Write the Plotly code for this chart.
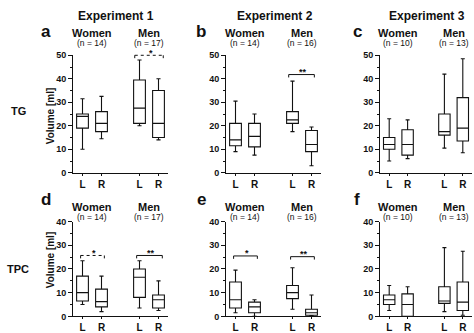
import plotly.graph_objects as go

W, H = 474, 333

# Box positions within each panel: Women L/R, Men L/R
positions = [0, 1, 3, 4]
sides = ["L", "R", "L", "R"]

# --- TG volume [ml] ---
tg1_low = [10, 14.5, 20, 14]
tg1_q1 = [19, 17.5, 21, 15]
tg1_med = [24, 21, 27.5, 21]
tg1_q3 = [25, 26, 39.5, 35]
tg1_high = [31.5, 32.5, 48, 40]

tg2_low = [9, 7.5, 17.5, 3]
tg2_q1 = [11.5, 11, 21, 9]
tg2_med = [14, 15.5, 22.5, 12]
tg2_q3 = [21, 21, 26, 18]
tg2_high = [30.5, 25, 39, 19.5]

tg3_low = [5, 6, 10.5, 8.5]
tg3_q1 = [10, 7.5, 16, 13.5]
tg3_med = [12, 12, 17.5, 19]
tg3_q3 = [15, 18.3, 25, 32]
tg3_high = [23, 22.5, 42, 48.5]

# --- TPC volume [ml] ---
tpc1_low = [5, 2, 3.5, 2.5]
tpc1_q1 = [6.5, 4, 8, 3.5]
tpc1_med = [10, 6.2, 16.5, 7]
tpc1_q3 = [17, 11.5, 20, 9]
tpc1_high = [23.5, 17, 23.5, 15]

tpc2_low = [1.5, 0, 3, 0]
tpc2_q1 = [3.5, 1.5, 7.5, 0.5]
tpc2_med = [7, 4, 10, 1.5]
tpc2_q3 = [14.5, 6, 13, 3]
tpc2_high = [19.5, 7, 20.5, 9]

tpc3_low = [2.5, 0, 2, 0.5]
tpc3_q1 = [5, 0, 5.5, 2.5]
tpc3_med = [7, 5, 6.5, 6]
tpc3_q3 = [9, 9.5, 12.5, 14.5]
tpc3_high = [13, 12.5, 29, 27.5]

# Group sizes (women, men) per experiment
n_women = [14, 14, 10]
n_men = [17, 16, 13]

experiments = ["Experiment 1", "Experiment 2", "Experiment 3"]
panel_letters = ["a", "b", "c", "d", "e", "f"]
row_labels = ["TG", "TPC"]
y_max = [50, 40]

# Significance brackets: (panel index, x start, x end, y level, label, dotted)
brackets = [
    (0, 2.75, 4.25, 50, "*", True),
    (1, 2.8, 4.15, 41.8, "**", False),
    (3, -0.1, 1.15, 25.7, "*", True),
    (3, 2.85, 4.2, 25.7, "**", False),
    (4, -0.1, 1.15, 25.5, "*", False),
    (4, 2.9, 4.15, 25.2, "**", False),
]

stats = [
    (tg1_low, tg1_q1, tg1_med, tg1_q3, tg1_high),
    (tg2_low, tg2_q1, tg2_med, tg2_q3, tg2_high),
    (tg3_low, tg3_q1, tg3_med, tg3_q3, tg3_high),
    (tpc1_low, tpc1_q1, tpc1_med, tpc1_q3, tpc1_high),
    (tpc2_low, tpc2_q1, tpc2_med, tpc2_q3, tpc2_high),
    (tpc3_low, tpc3_q1, tpc3_med, tpc3_q3, tpc3_high),
]

FONT = "Liberation Sans, Arial, sans-serif"
INK = "#111"

# Panel frame in pixels: left axis x, width of one box slot; rows: (top px, bottom px)
col_left = [73, 226, 380]
col_unit = [19, 19, 18.4]
row_px = [(52, 173.5), (224, 322)]


def px(x):
    return x / W


def py(y):
    return 1 - y / H


def label(x, y, text, size, bold=True, xref="paper", **kw):
    font = dict(size=size, family=FONT, color=INK)
    if bold:
        font["weight"] = "bold"
    d = dict(x=x, y=y, xref=xref, yref="paper", text=text, showarrow=False,
             xanchor="center", yanchor="middle", font=font)
    d.update(kw)
    return d


fig = go.Figure()
layout = dict(
    width=W, height=H,
    margin=dict(l=0, r=0, t=0, b=0),
    paper_bgcolor="white", plot_bgcolor="white",
    showlegend=False,
    font=dict(family=FONT, color=INK),
)
annotations = []
shapes = []

for k in range(6):
    r, c = divmod(k, 3)
    ax = "" if k == 0 else str(k + 1)
    x0 = col_left[c]
    x1 = x0 + 5 * col_unit[c]
    top, bot = row_px[r]
    lo, q1, med, q3, hi = stats[k]
    fig.add_trace(go.Box(
        x=positions, q1=q1, median=med, q3=q3,
        lowerfence=lo, upperfence=hi,
        width=0.62, whiskerwidth=0.35,
        line=dict(color=INK, width=1.1),
        fillcolor="rgba(255,255,255,0)",
        boxpoints=False, hoverinfo="skip",
        xaxis="x" + ax, yaxis="y" + ax,
    ))
    layout["xaxis" + ax] = dict(
        domain=[px(x0), min(px(x1), 1.0)], anchor="y" + ax,
        range=[-0.5, 4.5], tickvals=positions, ticktext=sides,
        ticks="outside", ticklen=2, tickcolor=INK,
        tickfont=dict(size=10, family=FONT, weight="bold", color=INK),
        showline=True, linecolor=INK, linewidth=1,
        showgrid=False, zeroline=False, fixedrange=True,
    )
    layout["yaxis" + ax] = dict(
        domain=[py(bot), py(top)], anchor="x" + ax,
        range=[0, y_max[r]], dtick=10,
        ticks="outside", ticklen=4, tickcolor=INK,
        minor=dict(dtick=5, ticks="outside", ticklen=2, tickcolor=INK),
        tickfont=dict(size=9, family=FONT, weight="bold", color=INK),
        showline=True, linecolor=INK, linewidth=1,
        showgrid=False, zeroline=False, fixedrange=True,
    )

    # Panel letter
    letter_x = [46, 201, 357][c]
    letter_y = [27, 201][r]
    annotations.append(label(px(letter_x), py(letter_y), panel_letters[k], 17))

    # Group labels above boxes
    title_y = [29, 209][r]
    n_y = [39.5, 219.5][r]
    for gx, gname, nval in [(0.5, "Women", n_women[c]), (3.5, "Men", n_men[c])]:
        annotations.append(label(gx, py(title_y), gname, 11, xref="x" + ax))
        annotations.append(label(gx, py(n_y), f"(n = {nval})", 8.5,
                                 bold=False, xref="x" + ax))

# Column headers
for c, name in enumerate(experiments):
    cx = [116, 275, 427][c]
    annotations.append(label(px(cx), py(11), name, 12))

# Row labels and y-axis titles
for r, name in enumerate(row_labels):
    ry = [110, 273][r]
    annotations.append(label(px(18), py(ry), name, 11))
    vy = [115, 264][r]
    annotations.append(label(px(50), py(vy), "Volume [ml]", 10, textangle=-90))

# Significance brackets
for k, bx0, bx1, by, txt, dotted in brackets:
    r, c = divmod(k, 3)
    ax = "" if k == 0 else str(k + 1)
    top, bot = row_px[r]
    ypix = bot - (bot - top) * by / y_max[r]
    yb = py(ypix)
    ytick = py(ypix + 3)
    dash = "dot" if dotted else "solid"
    shapes.append(dict(type="line", xref="x" + ax, yref="paper",
                       x0=bx0, x1=bx1, y0=yb, y1=yb,
                       line=dict(color=INK, width=1, dash=dash)))
    for ex in (bx0, bx1):
        shapes.append(dict(type="line", xref="x" + ax, yref="paper",
                           x0=ex, x1=ex, y0=yb, y1=ytick,
                           line=dict(color=INK, width=1)))
    annotations.append(label((bx0 + bx1) / 2 + 0.1, py(ypix - 2.6), txt, 9,
                             xref="x" + ax))

layout["annotations"] = annotations
layout["shapes"] = shapes
fig.update_layout(**layout)
fig.write_html("out.html")
